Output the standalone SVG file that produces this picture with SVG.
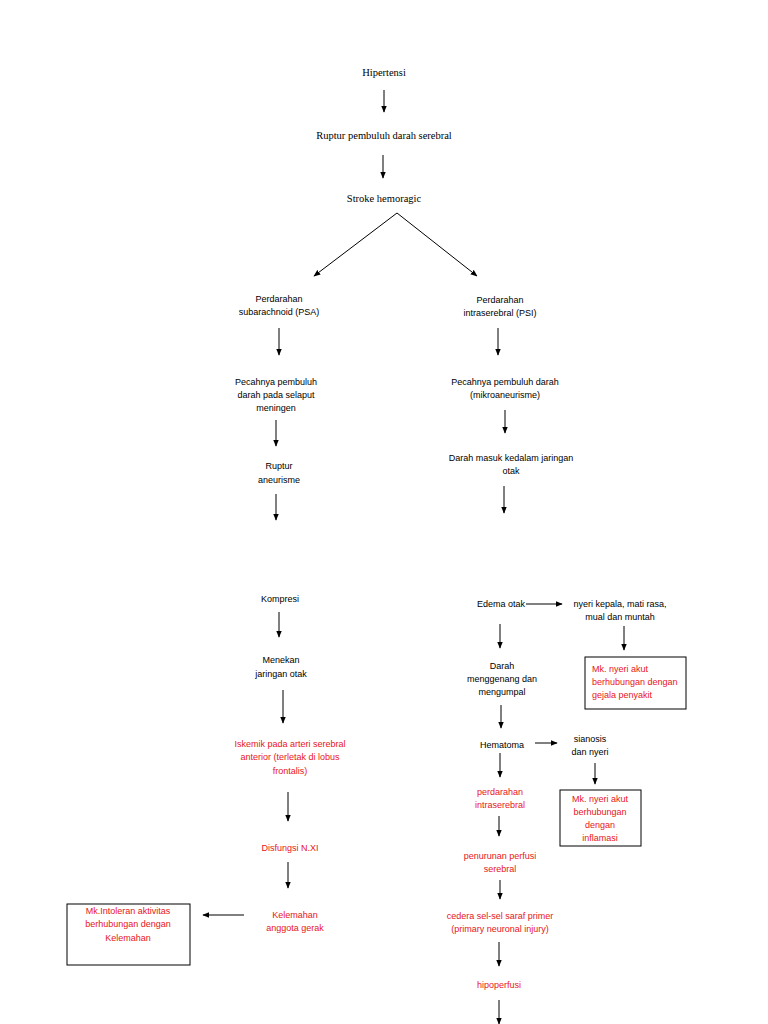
<svg xmlns="http://www.w3.org/2000/svg" width="768" height="1024" viewBox="0 0 768 1024">
<style>
.s{font-family:"Liberation Serif",serif;font-size:10.5px;fill:#000;text-anchor:middle}
.t{font-family:"Liberation Sans Narrow","Liberation Sans",sans-serif;font-size:9px;fill:#000;text-anchor:middle}
.r{fill:#e8141a}
.l{text-anchor:start}
line{stroke:#000;stroke-width:1}
rect{fill:#fff;stroke:#000;stroke-width:1}
</style>
<defs><marker id="a" viewBox="0 0 10 10" refX="9" refY="5" markerWidth="7" markerHeight="7" orient="auto"><path d="M0,1 L10,5 L0,9 z" fill="#000"/></marker></defs>
<rect x="0" y="0" width="768" height="1024" style="stroke:none"/>
<g id="connectors" marker-end="url(#a)">
<line x1="384" y1="90" x2="384" y2="112"/>
<line x1="383" y1="155" x2="383" y2="178"/>
<line x1="397" y1="213" x2="314" y2="276"/>
<line x1="397" y1="213" x2="477" y2="276"/>
<line x1="279" y1="328" x2="279" y2="355"/>
<line x1="276" y1="420" x2="276" y2="446"/>
<line x1="276" y1="494" x2="276" y2="520"/>
<line x1="279" y1="612" x2="279" y2="637"/>
<line x1="283" y1="690" x2="283" y2="723"/>
<line x1="288" y1="792" x2="288" y2="821"/>
<line x1="288" y1="862" x2="288" y2="888"/>
<line x1="244" y1="915" x2="203" y2="915"/>
<line x1="498" y1="328" x2="498" y2="355"/>
<line x1="505" y1="410" x2="505" y2="433"/>
<line x1="504" y1="486" x2="504" y2="513"/>
<line x1="526" y1="604" x2="562" y2="604"/>
<line x1="624" y1="626" x2="624" y2="650"/>
<line x1="500" y1="624" x2="500" y2="648"/>
<line x1="501" y1="705" x2="501" y2="728"/>
<line x1="535" y1="743" x2="557" y2="743"/>
<line x1="595" y1="763" x2="595" y2="784"/>
<line x1="500" y1="753" x2="500" y2="777"/>
<line x1="499" y1="816" x2="499" y2="836"/>
<line x1="500" y1="880" x2="500" y2="899"/>
<line x1="499" y1="942" x2="499" y2="966"/>
<line x1="499" y1="1000" x2="499" y2="1024"/>
</g>
<g id="n1"><text class="s" x="384" y="76">Hipertensi</text></g>
<g id="n2"><text class="s" x="384" y="139">Ruptur pembuluh darah serebral</text></g>
<g id="n3"><text class="s" x="384" y="202">Stroke hemoragic</text></g>
<g id="n4"><text class="t" x="279" y="302">Perdarahan</text><text class="t" x="279" y="315">subarachnoid (PSA)</text></g>
<g id="n5"><text class="t" x="276" y="385">Pecahnya pembuluh</text><text class="t" x="276" y="398">darah pada selaput</text><text class="t" x="276" y="411">meningen</text></g>
<g id="n6"><text class="t" x="279" y="469">Ruptur</text><text class="t" x="279" y="483">aneurisme</text></g>
<g id="n7"><text class="t" x="280" y="602">Kompresi</text></g>
<g id="n8"><text class="t" x="281" y="663">Menekan</text><text class="t" x="281" y="677">jaringan otak</text></g>
<g id="n9"><text class="t r" x="290" y="747">Iskemik pada arteri serebral</text><text class="t r" x="290" y="760">anterior (terletak di lobus</text><text class="t r" x="290" y="774">frontalis)</text></g>
<g id="n10"><text class="t r" x="290" y="851">Disfungsi N.XI</text></g>
<g id="n11"><text class="t r" x="295" y="918">Kelemahan</text><text class="t r" x="295" y="931">anggota gerak</text></g>
<g id="n12"><rect x="67" y="904" width="123" height="61"/><text class="t r" x="128" y="914">Mk.Intoleran aktivitas</text><text class="t r" x="128" y="927">berhubungan dengan</text><text class="t r" x="128" y="941">Kelemahan</text></g>
<g id="n13"><text class="t" x="500" y="303">Perdarahan</text><text class="t" x="500" y="316">intraserebral (PSI)</text></g>
<g id="n14"><text class="t" x="505" y="385">Pecahnya pembuluh darah</text><text class="t" x="505" y="398">(mikroaneurisme)</text></g>
<g id="n15"><text class="t" x="511" y="461">Darah masuk kedalam jaringan</text><text class="t" x="511" y="474">otak</text></g>
<g id="n16"><text class="t" x="501" y="607">Edema otak</text></g>
<g id="n17"><text class="t" x="620" y="607">nyeri kepala, mati rasa,</text><text class="t" x="620" y="620">mual dan muntah</text></g>
<g id="n18"><rect x="585" y="657" width="101" height="52"/><text class="t r l" x="592" y="672">Mk. nyeri akut</text><text class="t r l" x="592" y="685">berhubungan dengan</text><text class="t r l" x="592" y="698">gejala penyakit</text></g>
<g id="n19"><text class="t" x="502" y="669">Darah</text><text class="t" x="502" y="682">menggenang dan</text><text class="t" x="502" y="695">mengumpal</text></g>
<g id="n20"><text class="t" x="502" y="748">Hematoma</text></g>
<g id="n21"><text class="t" x="590" y="742">sianosis</text><text class="t" x="590" y="755">dan nyeri</text></g>
<g id="n22"><rect x="560" y="790" width="81" height="56"/><text class="t r" x="600" y="802">Mk. nyeri akut</text><text class="t r" x="600" y="815">berhubungan</text><text class="t r" x="600" y="828">dengan</text><text class="t r" x="600" y="841">inflamasi</text></g>
<g id="n23"><text class="t r" x="500" y="795">perdarahan</text><text class="t r" x="500" y="808">intraserebral</text></g>
<g id="n24"><text class="t r" x="500" y="859">penurunan perfusi</text><text class="t r" x="500" y="872">serebral</text></g>
<g id="n25"><text class="t r" x="500" y="919">cedera sel-sel saraf primer</text><text class="t r" x="500" y="932">(primary neuronal injury)</text></g>
<g id="n26"><text class="t r" x="499" y="988">hipoperfusi</text></g>
</svg>
